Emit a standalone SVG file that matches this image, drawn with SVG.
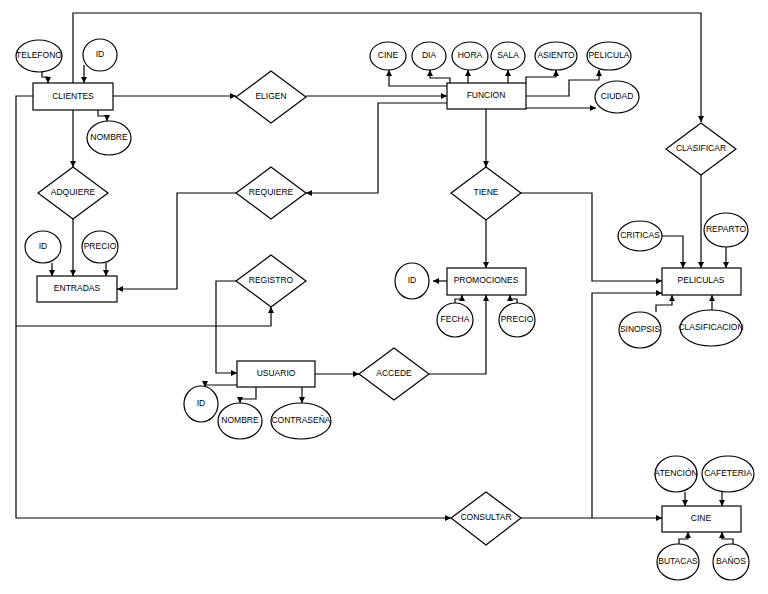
<svg xmlns="http://www.w3.org/2000/svg" width="768" height="594" viewBox="0 0 768 594">
<style>
.s{fill:#fff;stroke:#000;stroke-width:1.2}
.c path{fill:none;stroke:#000;stroke-width:1.2;marker-end:url(#a)}
text{font-family:"Liberation Sans",Arial,sans-serif;font-size:8.5px;text-anchor:middle;dominant-baseline:middle;fill:#000}
</style>
<defs><marker id="a" viewBox="0 0 10 10" refX="10" refY="5" markerWidth="6" markerHeight="6" markerUnits="userSpaceOnUse" orient="auto"><path d="M0,0L10,5L0,10z" fill="#000"/></marker></defs>
<g class="c">
<path d="M73 83V13H701V122"/>
<path d="M33 96H16V518H451"/>
<path d="M42 72V77H48V83"/>
<path d="M84 65V83"/>
<path d="M98 110V116H107V121"/>
<path d="M113 96H236"/>
<path d="M306 96H447"/>
<path d="M73 110V167"/>
<path d="M73 219V276"/>
<path d="M52 263V276"/>
<path d="M106 263V276"/>
<path d="M447 103H378V193H306"/>
<path d="M236 193H177V289H117"/>
<path d="M447 86H389V70"/>
<path d="M450 83V78H430V70"/>
<path d="M468 83V70"/>
<path d="M508 83V70"/>
<path d="M526 83V77H556V70"/>
<path d="M526 96H569V80H599V70"/>
<path d="M526 108H596"/>
<path d="M486 109V167"/>
<path d="M486 220V268"/>
<path d="M521 193H592V281H662"/>
<path d="M701 175V268"/>
<path d="M662 236H683V268"/>
<path d="M726 247V268"/>
<path d="M447 281H433"/>
<path d="M455 303V299H462V295"/>
<path d="M517 303V299H510V295"/>
<path d="M16 326H271V307"/>
<path d="M236 281H216V373H237"/>
<path d="M315 374H359"/>
<path d="M429 374H486V295"/>
<path d="M237 385H205V387"/>
<path d="M256 387V399H240V403"/>
<path d="M302 387V403"/>
<path d="M521 518H662"/>
<path d="M592 518V293H662"/>
<path d="M656 312V305H672V295"/>
<path d="M712 310V295"/>
<path d="M685 492V506"/>
<path d="M722 492V506"/>
<path d="M679 545V539H688V532"/>
<path d="M733 545V539H722V532"/>
</g>
<g id="clientes"><rect class="s" x="33" y="83" width="80" height="27"/><text x="73" y="97">CLIENTES</text></g>
<g id="telefono"><ellipse class="s" cx="39" cy="56" rx="23" ry="16"/><text x="39" y="56">TELEFONO</text></g>
<g id="id1"><ellipse class="s" cx="100" cy="55" rx="17" ry="16"/><text x="100" y="55">ID</text></g>
<g id="nombre1"><ellipse class="s" cx="109" cy="138" rx="22" ry="17"/><text x="109" y="138">NOMBRE</text></g>
<g id="eligen"><polygon class="s" points="236,97 271,71 306,97 271,123"/><text x="271" y="97">ELIGEN</text></g>
<g id="adquiere"><polygon class="s" points="38,193 73,167 108,193 73,219"/><text x="73" y="193">ADQUIERE</text></g>
<g id="requiere"><polygon class="s" points="236,193 271,167 306,193 271,219"/><text x="271" y="193">REQUIERE</text></g>
<g id="entradas"><rect class="s" x="37" y="276" width="80" height="26"/><text x="77" y="289">ENTRADAS</text></g>
<g id="id2"><ellipse class="s" cx="43" cy="247" rx="18" ry="16"/><text x="43" y="247">ID</text></g>
<g id="precio1"><ellipse class="s" cx="100" cy="247" rx="18" ry="16"/><text x="100" y="247">PRECIO</text></g>
<g id="funcion"><rect class="s" x="447" y="83" width="79" height="26"/><text x="486" y="96">FUNCION</text></g>
<g id="cine1"><ellipse class="s" cx="388" cy="56" rx="18" ry="14"/><text x="388" y="56">CINE</text></g>
<g id="dia"><ellipse class="s" cx="429" cy="56" rx="17" ry="14"/><text x="429" y="56">DIA</text></g>
<g id="hora"><ellipse class="s" cx="470" cy="56" rx="18" ry="14"/><text x="470" y="56">HORA</text></g>
<g id="sala"><ellipse class="s" cx="508" cy="56" rx="17" ry="14"/><text x="508" y="56">SALA</text></g>
<g id="asiento"><ellipse class="s" cx="556" cy="56" rx="21" ry="14"/><text x="556" y="56">ASIENTO</text></g>
<g id="pelicula"><ellipse class="s" cx="609" cy="56" rx="22" ry="14"/><text x="609" y="56">PELICULA</text></g>
<g id="ciudad"><ellipse class="s" cx="617" cy="97" rx="22" ry="16"/><text x="617" y="97">CIUDAD</text></g>
<g id="clasificar"><polygon class="s" points="666,149 701,123 736,149 701,175"/><text x="701" y="149">CLASIFICAR</text></g>
<g id="tiene"><polygon class="s" points="451,193 486,167 521,193 486,220"/><text x="486" y="193">TIENE</text></g>
<g id="promociones"><rect class="s" x="447" y="268" width="79" height="27"/><text x="486" y="281">PROMOCIONES</text></g>
<g id="id3"><ellipse class="s" cx="412" cy="281" rx="17" ry="18"/><text x="412" y="281">ID</text></g>
<g id="fecha"><ellipse class="s" cx="455" cy="320" rx="18" ry="17"/><text x="455" y="320">FECHA</text></g>
<g id="precio2"><ellipse class="s" cx="517" cy="320" rx="18" ry="17"/><text x="517" y="320">PRECIO</text></g>
<g id="peliculas"><rect class="s" x="662" y="268" width="79" height="27"/><text x="701" y="281">PELICULAS</text></g>
<g id="criticas"><ellipse class="s" cx="640" cy="236" rx="22" ry="15"/><text x="640" y="236">CRITICAS</text></g>
<g id="reparto"><ellipse class="s" cx="726" cy="230" rx="22" ry="17"/><text x="726" y="230">REPARTO</text></g>
<g id="sinopsis"><ellipse class="s" cx="640" cy="330" rx="21" ry="18"/><text x="640" y="330">SINOPSIS</text></g>
<g id="clasificacion"><ellipse class="s" cx="711" cy="328" rx="31" ry="18"/><text x="711" y="328">CLASIFICACION</text></g>
<g id="registro"><polygon class="s" points="236,281 271,255 306,281 271,307"/><text x="271" y="281">REGISTRO</text></g>
<g id="usuario"><rect class="s" x="237" y="361" width="78" height="26"/><text x="276" y="374">USUARIO</text></g>
<g id="accede"><polygon class="s" points="359,374 394,348 429,374 394,400"/><text x="394" y="374">ACCEDE</text></g>
<g id="id4"><ellipse class="s" cx="201" cy="404" rx="17" ry="18"/><text x="201" y="404">ID</text></g>
<g id="nombre2"><ellipse class="s" cx="240" cy="421" rx="22" ry="18"/><text x="240" y="421">NOMBRE</text></g>
<g id="contrasena"><ellipse class="s" cx="301" cy="421" rx="30" ry="18"/><text x="301" y="421">CONTRASEÑA</text></g>
<g id="consultar"><polygon class="s" points="451,518 486,492 521,518 486,545"/><text x="486" y="518">CONSULTAR</text></g>
<g id="cine2"><rect class="s" x="662" y="506" width="79" height="26"/><text x="701" y="519">CINE</text></g>
<g id="atencion"><ellipse class="s" cx="676" cy="474" rx="21" ry="18"/><text x="676" y="474">ATENCIÓN</text></g>
<g id="cafeteria"><ellipse class="s" cx="728" cy="474" rx="26" ry="18"/><text x="728" y="474">CAFETERIA</text></g>
<g id="butacas"><ellipse class="s" cx="678" cy="562" rx="21" ry="18"/><text x="678" y="562">BUTACAS</text></g>
<g id="banos"><ellipse class="s" cx="731" cy="562" rx="18" ry="18"/><text x="731" y="562">BAÑOS</text></g>
</svg>
